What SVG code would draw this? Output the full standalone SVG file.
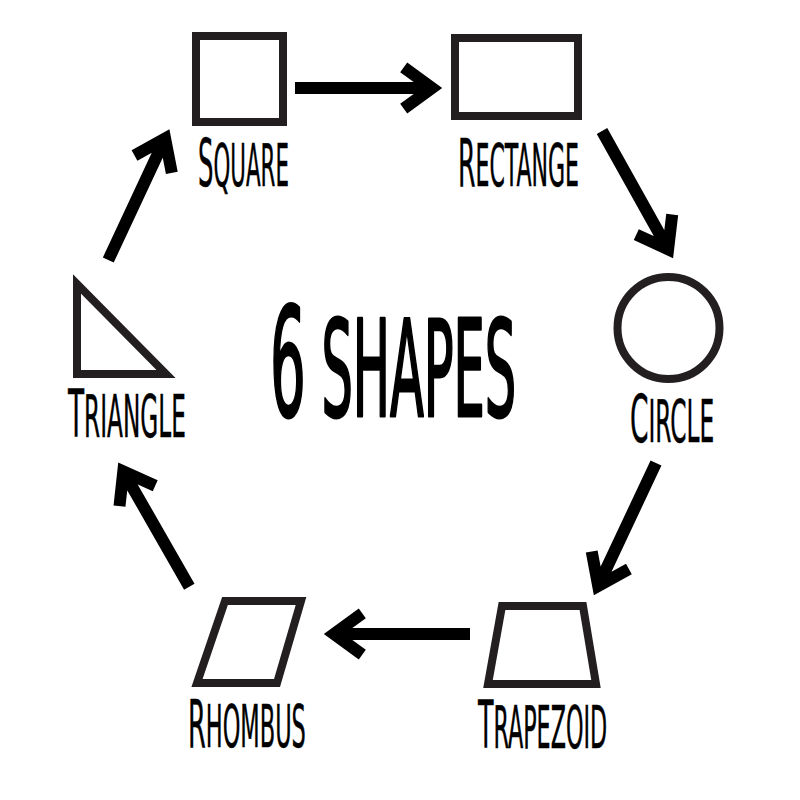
<svg xmlns="http://www.w3.org/2000/svg" width="800" height="800" viewBox="0 0 800 800">
<style>
.shape{fill:none;stroke:#231f20;stroke-width:8;stroke-linejoin:miter}
.arrow{fill:none;stroke:#000;stroke-width:12;stroke-linejoin:miter;stroke-linecap:butt}
.lbl{font-family:"DejaVu Sans Condensed","Liberation Sans Narrow","DejaVu Sans",sans-serif;font-weight:normal;font-size:58px;fill:#000;stroke:#000;stroke-width:0.5px;stroke-linejoin:round}
.big{font-size:66px}
.title{font-family:"DejaVu Sans Condensed","Liberation Sans Narrow","DejaVu Sans",sans-serif;font-weight:normal;font-size:133px;fill:#000;stroke:#000;stroke-width:3px;stroke-linejoin:round}
</style>
<rect width="800" height="800" fill="#fff"/>
<g id="connectors">
<path class="arrow" d="M295,88 L432,88 M403.7,67.4 L432,88 L403.7,108.6"/>
<path class="arrow" d="M602,131 L668.1,249.3 M636.3,234.6 L668.1,249.3 L672.2,214.5"/>
<path class="arrow" d="M656,463 L598.2,585.9 M591.7,551.5 L598.2,585.9 L628.9,569"/>
<path class="arrow" d="M470,634 L334,634 M362.3,613.4 L334,634 L362.3,654.6"/>
<path class="arrow" d="M189.3,586.7 L123.3,471.4 M155.2,485.8 L123.3,471.4 L119.5,506.2"/>
<path class="arrow" d="M108.3,260 L165.1,138.4 M134.5,155.4 L165.1,138.4 L171.8,172.8"/>
</g>
<g id="square">
<rect class="shape" x="196" y="36" width="87" height="86"/>
<text class="lbl" transform="translate(198,186) scale(0.45,1)" textLength="202" lengthAdjust="spacingAndGlyphs"><tspan class="big">S</tspan>QUARE</text>
</g>
<g id="rectangle">
<rect class="shape" x="455" y="38" width="123" height="78"/>
<text class="lbl" transform="translate(458,186) scale(0.45,1)" textLength="269" lengthAdjust="spacingAndGlyphs"><tspan class="big">R</tspan>ECTANGE</text>
</g>
<g id="circle">
<circle class="shape" cx="668.5" cy="328" r="51"/>
<text class="lbl" transform="translate(630,442) scale(0.45,1)" textLength="187" lengthAdjust="spacingAndGlyphs"><tspan class="big">C</tspan>IRCLE</text>
</g>
<g id="trapezoid">
<polygon class="shape" points="502,606 583,606 596,684 488,684"/>
<text class="lbl" transform="translate(478,748) scale(0.45,1)" textLength="287" lengthAdjust="spacingAndGlyphs"><tspan class="big">T</tspan>RAPEZOID</text>
</g>
<g id="rhombus">
<polygon class="shape" points="225,601 301,601 277,683 197,683"/>
<text class="lbl" transform="translate(188,747) scale(0.45,1)" textLength="262" lengthAdjust="spacingAndGlyphs"><tspan class="big">R</tspan>HOMBUS</text>
</g>
<g id="triangle">
<polygon class="shape" points="77,284 77,374 166,374"/>
<text class="lbl" transform="translate(68,437) scale(0.45,1)" textLength="262" lengthAdjust="spacingAndGlyphs"><tspan class="big">T</tspan>RIANGLE</text>
</g>
<g id="title">
<text class="title" transform="translate(270,416) scale(0.45,1)" textLength="547" lengthAdjust="spacingAndGlyphs"><tspan font-size="151px">6</tspan> SHAPES</text>
</g>
</svg>
